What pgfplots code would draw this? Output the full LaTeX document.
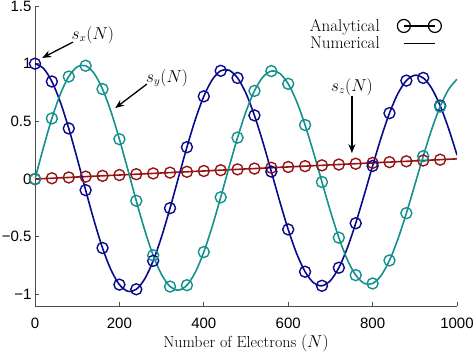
\documentclass[border=0pt]{standalone}
\usepackage{pgfplots}
\pgfplotsset{compat=1.18}
\usepackage{pgfplotstable}
\usepackage{fontspec}
\newfontfamily\ticksans{Liberation Sans}
\usetikzlibrary{calc,arrows.meta}
\definecolor{cx}{RGB}{10,10,140}
\definecolor{cy}{RGB}{20,145,140}
\definecolor{cz}{RGB}{150,20,20}

\pgfplotstableread{
N sx sy sz
0 1.0000 0.0000 0.000
20 0.9595 0.2738 0.004
40 0.8456 0.5255 0.007
60 0.6675 0.7358 0.011
80 0.4389 0.8887 0.014
100 0.1777 0.9729 0.018
120 -0.0959 0.9822 0.021
140 -0.3609 0.9161 0.025
160 -0.5972 0.7800 0.028
180 -0.7866 0.5849 0.032
200 -0.9148 0.3458 0.035
220 -0.9724 0.0813 0.039
240 -0.9552 -0.1883 0.042
260 -0.8650 -0.4423 0.046
280 -0.7087 -0.6611 0.049
300 -0.4989 -0.8283 0.053
320 -0.2518 -0.9313 0.056
340 0.0135 -0.9625 0.060
360 0.2765 -0.9198 0.063
380 0.5170 -0.8067 0.067
400 0.7168 -0.6324 0.070
420 0.8610 -0.4104 0.074
440 0.9384 -0.1581 0.077
460 0.9435 0.1053 0.081
480 0.8764 0.3595 0.084
500 0.7423 0.5848 0.088
520 0.5519 0.7643 0.091
540 0.3203 0.8844 0.095
560 0.0651 0.9361 0.098
580 -0.1939 0.9159 0.102
600 -0.4367 0.8256 0.105
620 -0.6449 0.6726 0.109
640 -0.8030 0.4685 0.112
660 -0.8986 0.2296 0.116
680 -0.9248 -0.0256 0.119
700 -0.8802 -0.2779 0.123
720 -0.7683 -0.5075 0.126
740 -0.5979 -0.6974 0.130
760 -0.3827 -0.8326 0.133
780 -0.1392 -0.9035 0.137
800 0.1138 -0.9049 0.140
820 0.3569 -0.8368 0.144
840 0.5715 -0.7050 0.147
860 0.7414 -0.5197 0.151
880 0.8534 -0.2957 0.154
900 0.8996 -0.0500 0.158
920 0.8766 0.1984 0.161
940 0.7866 0.4303 0.165
960 0.6366 0.6281 0.168
980 0.4388 0.7768 0.172
1000 0.2083 0.8653 0.175
}\data

\begin{document}
\begin{tikzpicture}
\begin{axis}[
  scale only axis, width=422pt, height=300pt,
  xmin=0, xmax=1000, ymin=-1.1, ymax=1.5,
  axis x line*=bottom, axis y line*=left,
  axis line style={draw=black!70, line width=0.8pt},
  xtick={0,200,400,600,800,1000},
  xticklabels={0,200,400,600,800,1000},
  ytick={-1,-0.5,0,0.5,1,1.5},
  yticklabels={−1,−0.5,0,0.5,1,1.5},
  tick style={draw=black!70, line width=0.8pt},
  major tick length=4pt, tick align=inside,
  ticklabel style={font=\ticksans\fontsize{15}{18}\selectfont},
  xticklabel style={yshift=-8pt},
  xlabel={Number of Electrons $(N)$},
  xlabel style={at={(rel axis cs:0.5,0)}, anchor=center, yshift=-37pt},
  label style={font=\fontsize{16}{19}\selectfont},
  legend plot pos=right, legend cell align=right,
  legend style={draw=none, fill=none, at={(axis cs:972,1.422)}, anchor=north east,
    font=\fontsize{17}{19}\selectfont, row sep=0pt, column sep=15pt},
]
\coordinate (bl) at (rel axis cs:0,0);
\coordinate (tr) at (rel axis cs:1,1);

\addlegendimage{legend image code/.code={
  \draw[black,line width=1.2pt] (0pt,0pt) -- (31pt,0pt);
  \draw[black,line width=1.2pt] (0pt,0pt) circle (6.5pt) (31pt,0pt) circle (6.5pt);}}
\addlegendentry{Analytical}
\addlegendimage{legend image code/.code={
  \draw[black,line width=1.2pt] (0pt,0pt) -- (31pt,0pt);}}
\addlegendentry{Numerical}

\addplot[cz, line width=1.6pt, smooth, forget plot] table[x=N,y=sz]{\data};
\addplot[cz, only marks, mark=o, mark size=5.5pt, line width=1.4pt, each nth point=2, restrict x to domain=0:970, forget plot] table[x=N,y=sz]{\data};
\addplot[cx, line width=1.6pt, smooth, forget plot] table[x=N,y=sx]{\data};
\addplot[cx, only marks, mark=o, mark size=5.5pt, line width=1.4pt, each nth point=2, restrict x to domain=0:970, forget plot] table[x=N,y=sx]{\data};
\addplot[cy, line width=1.6pt, smooth, forget plot] table[x=N,y=sy]{\data};
\addplot[cy, only marks, mark=o, mark size=5.5pt, line width=1.4pt, each nth point=2, restrict x to domain=0:970, forget plot] table[x=N,y=sy]{\data};

\draw[-{Stealth[length=9pt,width=7pt]}, line width=1.3pt] (axis cs:90,1.187) -- (axis cs:17,1.05);
\node[font=\fontsize{16}{19}\selectfont] at (axis cs:137,1.25) {$s_x(N)$};
\draw[-{Stealth[length=9pt,width=7pt]}, line width=1.3pt] (axis cs:265,0.823) -- (axis cs:190,0.615);
\node[font=\fontsize{16}{19}\selectfont] at (axis cs:313,0.875) {$s_y(N)$};
\draw[-{Stealth[length=9pt,width=7pt]}, line width=1.3pt] (axis cs:751,0.72) -- (axis cs:751,0.225);
\node[font=\fontsize{16}{19}\selectfont] at (axis cs:751,0.80) {$s_z(N)$};
\end{axis}
\pgfresetboundingbox
\path[use as bounding box] ($(bl)+(-35pt,-46pt)$) rectangle ($(tr)+(17pt,6pt)$);
\end{tikzpicture}
\end{document}
